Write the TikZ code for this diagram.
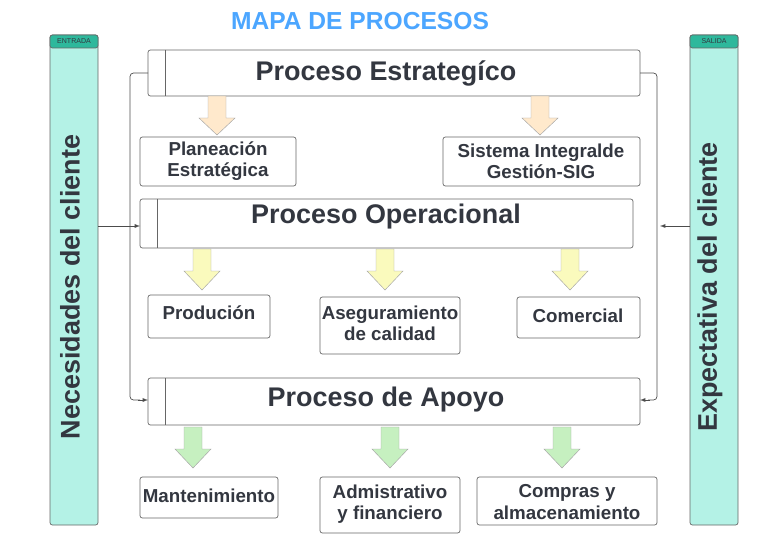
\documentclass[tikz,border=0pt]{standalone}
\usepackage{fontspec}
\setmainfont{Liberation Sans}
\definecolor{panel}{HTML}{B4F2E6}
\definecolor{panelhead}{HTML}{2EB89C}
\definecolor{beige}{HTML}{FFE9CC}
\definecolor{paleyel}{HTML}{FAFABD}
\definecolor{palegrn}{HTML}{C6F0C0}
\definecolor{txt}{HTML}{333740}
\newcommand{\downarr}[4]{% x, top y, bottom y, colour
  \draw[fill=#4, draw=gray!70] (#1-9,#2) -- (#1+9,#2) -- (#1+9,#2+22) -- (#1+18,#2+22)
    -- (#1,#3) -- (#1-18,#2+22) -- (#1-9,#2+22) -- cycle;}
\begin{document}
\begin{tikzpicture}[x=0.03cm,y=-0.03cm]
        \tikzstyle{box} = [draw=gray!80!black, semithick, rounded corners=2pt, fill=white]
        \tikzstyle{lbl} = [font=\bfseries\fontsize{16}{18}\selectfont, text=txt, align=center]
        \tikzstyle{big} = [font=\bfseries\fontsize{23}{26}\selectfont, text=txt]
        \tikzstyle{link} = [draw=gray!60!black, semithick, -latex]

		\useasboundingbox (0,0) rectangle (768,543);
		\node[font=\bfseries\fontsize{21}{24}\selectfont, text=blue!50!cyan!70] (title) at (360,21) {MAPA DE PROCESOS};

		% side panels
		\draw[box, fill=panel] (50,35) rectangle (98,525);
		\draw[box, fill=panelhead] (50,35) rectangle (98,48);
		\node[font=\fontsize{6}{7}\selectfont, text=txt] (entrada) at (74,41.5) {ENTRADA};
		\node[big, rotate=90] (nec) at (70,287) {Necesidades del cliente};
		\draw[box, fill=panel] (690,35) rectangle (738,525);
		\draw[box, fill=panelhead] (690,35) rectangle (738,48);
		\node[font=\fontsize{6}{7}\selectfont, text=txt] (salida) at (714,41.5) {SALIDA};
		\node[big, rotate=90] (exp) at (710,287) {Expectativa del cliente};

		% process bars
		\draw[box] (148,50) rectangle (640,96);
		\draw[gray!80!black, semithick] (165,50) -- (165,96);
		\node[big] (estr) at (386,73) {Proceso Estrategíco};
		\draw[box] (140,199) rectangle (633,248);
		\draw[gray!80!black, semithick] (157,199) -- (157,248);
		\node[big] (oper) at (386,217) {Proceso Operacional};
		\draw[box] (148,378) rectangle (640,425);
		\draw[gray!80!black, semithick] (165,378) -- (165,425);
		\node[big] (apoyo) at (386,400) {Proceso de Apoyo};

		% block arrows
		\downarr{217}{96}{135}{beige}
		\downarr{540}{96}{135}{beige}
		\downarr{202}{249}{290}{paleyel}
		\downarr{385}{249}{290}{paleyel}
		\downarr{570}{249}{290}{paleyel}
		\downarr{193}{427}{468}{palegrn}
		\downarr{390}{427}{468}{palegrn}
		\downarr{562}{427}{468}{palegrn}

		% sub boxes
		\draw[box] (140,137) rectangle (296,186);
		\node[lbl] (plan) at (218,161) {Planeación\\Estratégica};
		\draw[box] (443,137) rectangle (640,186);
		\node[lbl] (sig) at (541,161) {Sistema Integralde\\Gestión-SIG};
		\draw[box] (148,295) rectangle (270,338);
		\node[lbl] (prod) at (209,313) {Produción};
		\draw[box] (320,297) rectangle (460,354);
		\node[lbl] (aseg) at (390,323) {Aseguramiento\\de calidad};
		\draw[box] (517,297) rectangle (640,338);
		\node[lbl] (com) at (578,316) {Comercial};
		\draw[box] (140,477) rectangle (278,518);
		\node[lbl] (mant) at (209,496) {Mantenimiento};
		\draw[box] (320,477) rectangle (460,533);
		\node[lbl] (adm) at (390,504) {Admistrativo\\y financiero};
		\draw[box] (477,477) rectangle (657,525);
		\node[lbl] (comp) at (567,502) {Compras y\\almacenamiento};

		% connectors
		\draw[link, -, rounded corners=3pt] (148,73) -- (130,73) -- (130,400) -- (140,400);
		\draw[link] (138,400) -- (148,400);
		\draw[link] (98,226) -- (140,226);
		\draw[link, -, rounded corners=3pt] (640,73) -- (657,73) -- (657,400) -- (648,400);
		\draw[link] (650,400) -- (640,400);
		\draw[link] (690,226) -- (660,226);
\end{tikzpicture}
\end{document}
